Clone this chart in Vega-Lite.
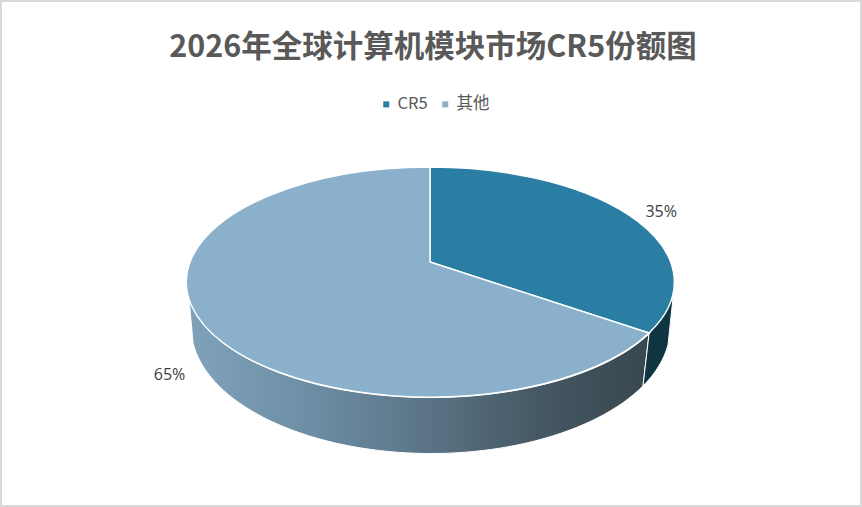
{
  "$schema": "https://vega.github.io/schema/vega-lite/v6.json",
  "width": 862,
  "height": 507,
  "padding": 0,
  "autosize": "none",
  "background": "white",
  "view": {"stroke": "#d9d9d9", "strokeWidth": 4, "fill": "white"},
  "config": {"font": "Noto Sans CJK SC"},
  "title": {
    "text": "2026年全球计算机模块市场CR5份额图",
    "font": "Noto Sans CJK SC",
    "fontSize": 30.5,
    "fontWeight": "bold",
    "color": "#595959",
    "anchor": "middle",
    "baseline": "middle",
    "orient": "top",
    "offset": -78,
    "dx": 2
  },
  "data": {
    "values": [
      {"category": "CR5", "share": 35, "label": "35%"},
      {"category": "其他", "share": 65, "label": "65%"}
    ]
  },
  "resolve": {"scale": {"shape": "independent", "theta": "independent", "color": "independent"}},
  "layer": [
    {
      "mark": {"type": "square", "opacity": 1, "size": 1},
      "encoding": {
        "color": {
          "field": "category",
          "type": "nominal",
          "scale": {"domain": ["CR5", "其他"], "range": ["#2a7ea3", "#8ab0cc"]},
          "legend": {
            "orient": "none",
            "legendX": 378,
            "legendY": 96,
            "direction": "horizontal",
            "columns": 2,
            "title": null,
            "symbolType": "square",
            "symbolSize": 36,
            "symbolStrokeWidth": 0,
            "symbolOpacity": 1,
            "labelFontSize": 16.5,
            "labelColor": "#595959",
            "labelFont": "Noto Sans CJK SC",
            "labelOffset": 3,
            "columnPadding": 9
          }
        }
      }
    },
    {
      "transform": [{"filter": "datum.category === '其他'"}],
      "mark": {
        "type": "point",
        "filled": true,
        "opacity": 1,
        "size": 4,
        "stroke": "white",
        "strokeWidth": 1,
        "fill": {
          "gradient": "linear",
          "x1": 0, "y1": 0, "x2": 1, "y2": 0,
          "stops": [
            {"offset": 0, "color": "#7fa2ba"},
            {"offset": 0.25, "color": "#6e8fa6"},
            {"offset": 0.5, "color": "#5c7688"},
            {"offset": 0.75, "color": "#465965"},
            {"offset": 1, "color": "#38464e"}
          ]
        }
      },
      "encoding": {
        "shape": {
          "field": "category",
          "type": "nominal",
          "legend": null,
          "scale": {
            "domain": ["其他"],
            "range": ["M 218 80.5 A 244 115 0 0 1 -242 44.5 L -238 89.5 A 240 127 0 0 0 212 132.5 Z"]
          }
        }
      }
    },
    {
      "transform": [{"filter": "datum.category === 'CR5'"}],
      "mark": {"type": "point", "filled": true, "opacity": 1, "size": 4, "stroke": "white", "strokeWidth": 1, "fill": "#0f3442"},
      "encoding": {
        "shape": {
          "field": "category",
          "type": "nominal",
          "legend": null,
          "scale": {
            "domain": ["CR5"],
            "range": ["M 242 44.5 L 237 91.5 A 240 127 0 0 1 212 132.5 L 218 80.5 Z"]
          }
        }
      }
    },
    {
      "mark": {"type": "point", "filled": true, "opacity": 1, "size": 4, "stroke": "white", "strokeWidth": 1.4},
      "encoding": {
        "color": {
          "field": "category",
          "type": "nominal",
          "scale": {"domain": ["CR5", "其他"], "range": ["#2a7ea3", "#8ab0cc"]},
          "legend": null
        },
        "shape": {
          "field": "category",
          "type": "nominal",
          "legend": null,
          "scale": {
            "domain": ["CR5", "其他"],
            "range": [
              "M -1 8.5 L -1 -86.5 A 244 115 0 0 1 218 79.5 Z",
              "M -1 8.5 L 218 79.5 A 244 115 0 1 1 -1 -86.5 Z"
            ]
          }
        }
      }
    },
    {
      "mark": {"type": "text", "radius": 200, "dx": 52, "dy": 49, "fontSize": 16, "color": "#404040", "font": "Open Sans"},
      "encoding": {
        "theta": {"field": "share", "type": "quantitative", "stack": true},
        "detail": {"field": "category"},
        "order": {"field": "share", "type": "quantitative"},
        "text": {"condition": {"test": "datum.category === 'CR5'", "field": "label"}, "value": ""}
      }
    },
    {
      "mark": {"type": "text", "radius": 280, "dx": -12, "dy": -6, "fontSize": 16, "color": "#404040", "font": "Open Sans"},
      "encoding": {
        "theta": {"field": "share", "type": "quantitative", "stack": true},
        "detail": {"field": "category"},
        "order": {"field": "share", "type": "quantitative"},
        "text": {"condition": {"test": "datum.category === '其他'", "field": "label"}, "value": ""}
      }
    }
  ]
}
